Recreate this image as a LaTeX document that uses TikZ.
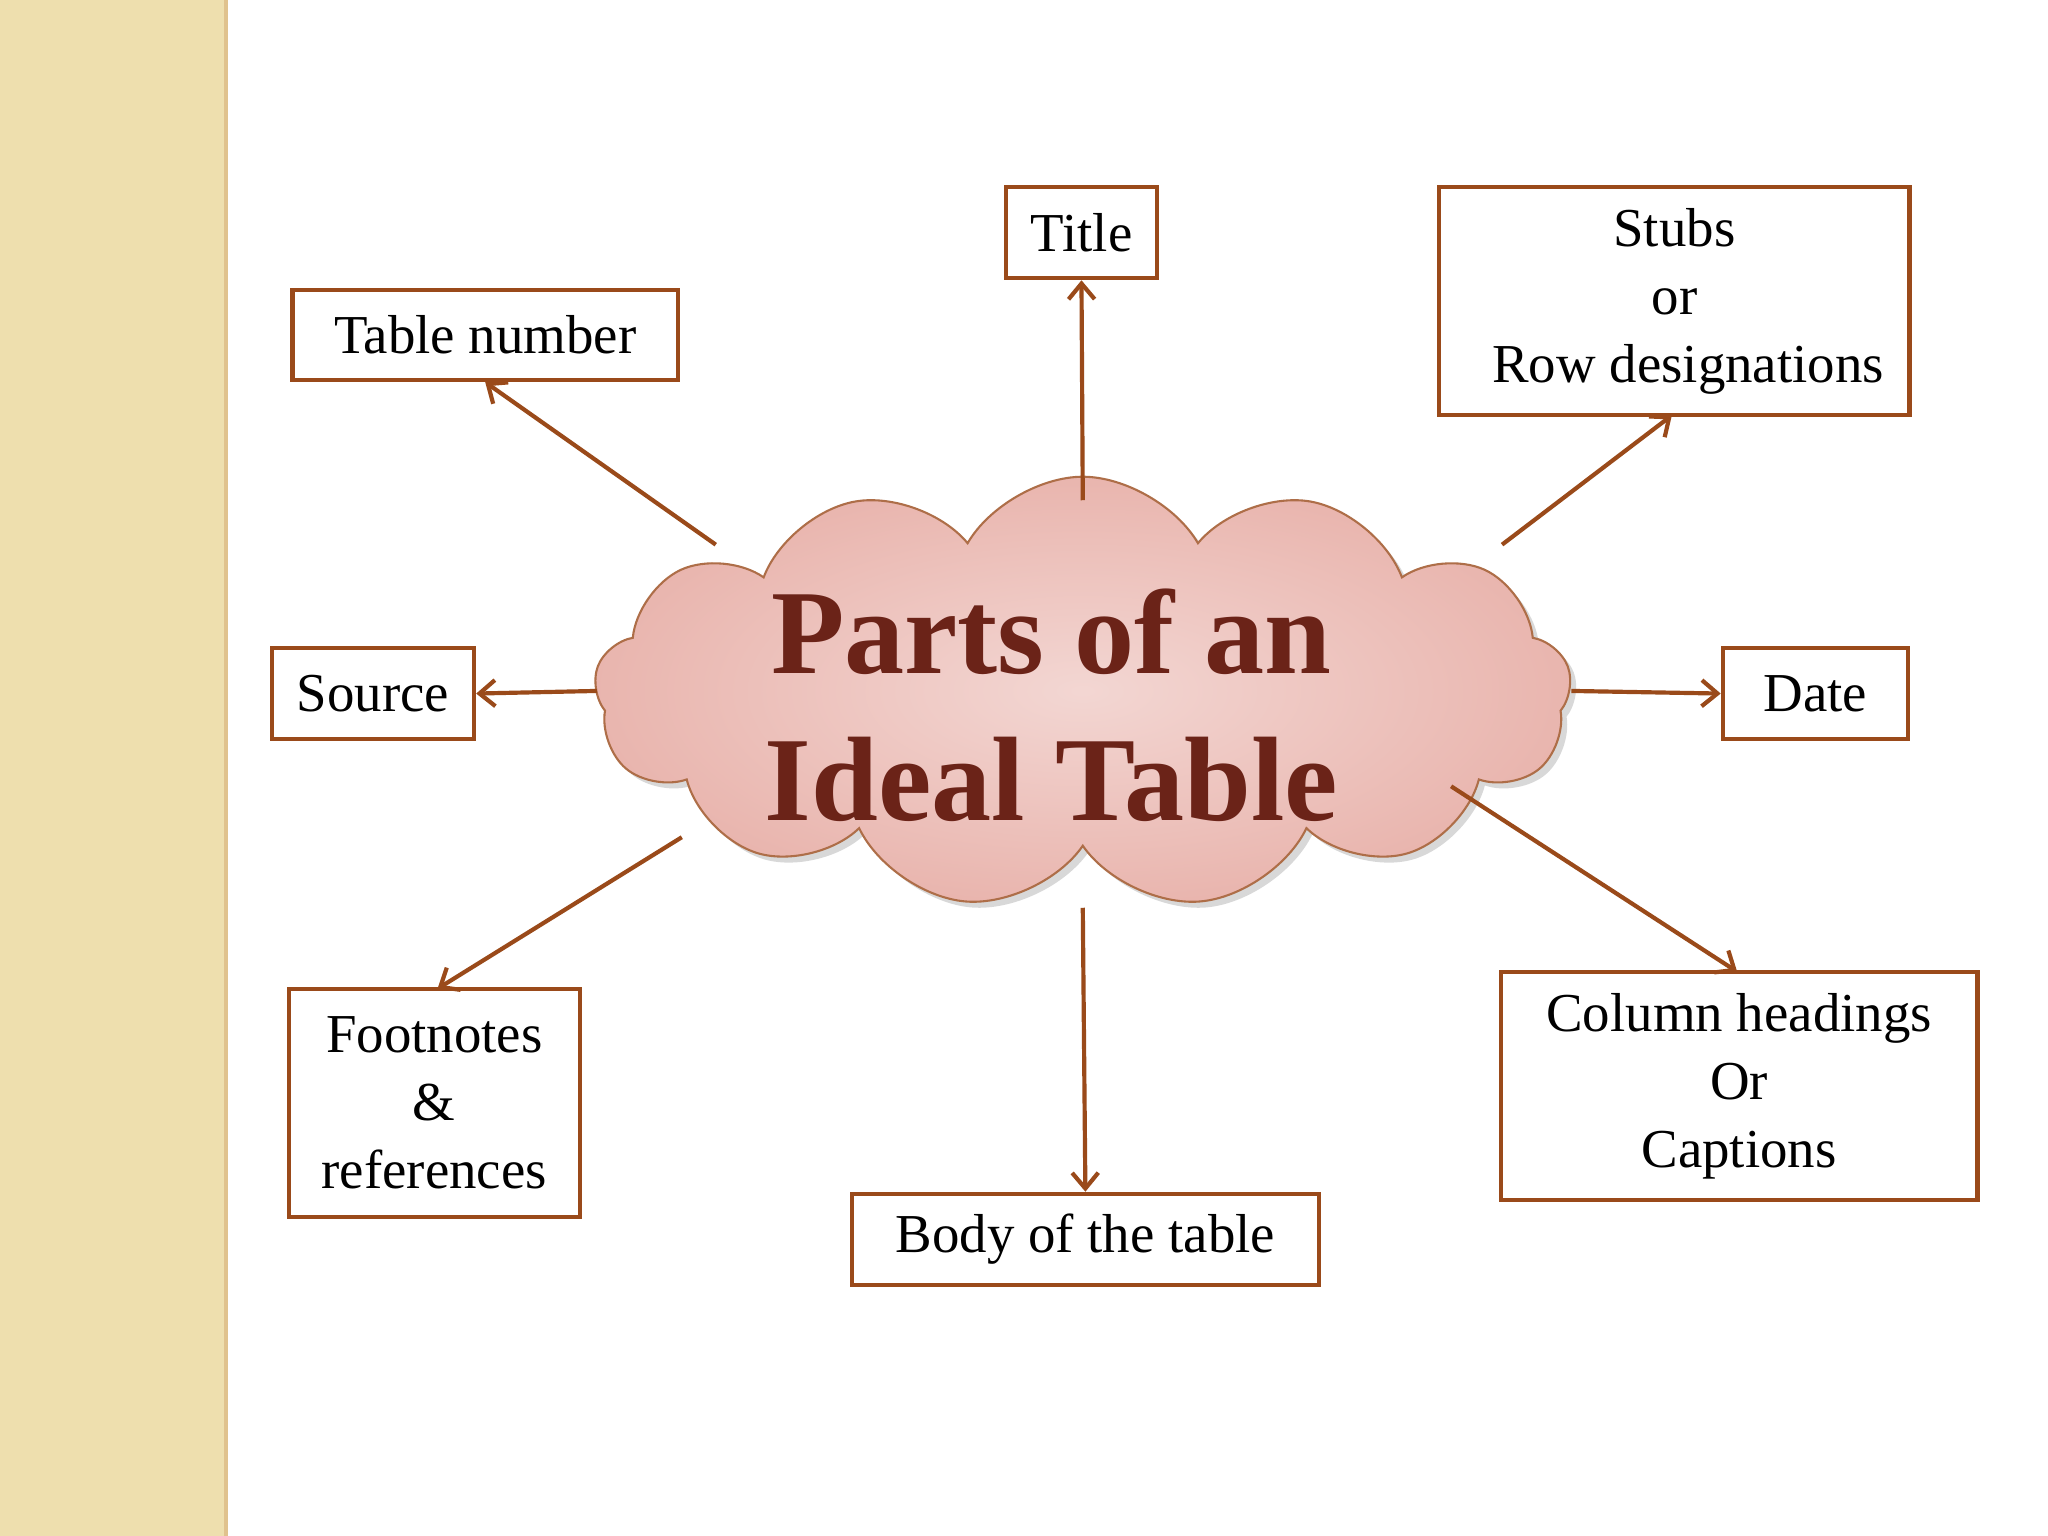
\documentclass[tikz,border=0pt]{standalone}
\usepackage{fontspec}
\setmainfont{Liberation Serif}
\usetikzlibrary{shapes.symbols,arrows.meta,shadows}
\definecolor{brn}{HTML}{9A4A1A}
\definecolor{strip}{HTML}{EEDFAE}
\definecolor{cloudc}{HTML}{E9B5AE}
\definecolor{ttl}{HTML}{6B2318}
\tikzset{
  part/.style={draw=brn,line width=1.6pt,fill=white,font=\fontsize{21}{26}\selectfont,align=center,inner sep=0pt},
  con/.style={draw=brn,line width=1.6pt,-{Straight Barb[length=6pt,width=10pt,line width=1.6pt]}}
}
\begin{document}
\begin{tikzpicture}[x=0.5pt,y=-0.5pt]
\useasboundingbox (0,0) rectangle (1568,1176);
\fill[white] (0,0) rectangle (1568,1176);
\fill[strip] (0,0) rectangle (173,1176);
\draw[strip!70!brown,line width=1.2pt] (173,0) -- (173,1176);
\node[cloud,cloud puffs=13,cloud puff arc=120,aspect=2.3,draw=brn!80,line width=0.8pt,
  inner color=cloudc!55,outer color=cloudc,drop shadow={opacity=0.3},
  minimum width=374pt,minimum height=165pt] (cl) at (829,530) {};
\node[font=\fontsize{46}{56}\selectfont\bfseries,text=ttl,align=center] (tt) at (805,540) {Parts of an\\Ideal Table};
\node[part,minimum width=58pt,minimum height=35pt] (title) at (828,178) {Title};
\node[part,minimum width=147.5pt,minimum height=34.5pt] (tn) at (371.5,256.5) {Table number};
\node[part,minimum width=180pt,minimum height=87.5pt] (st) at (1282,230.5) {Stubs\\or\\\ \ Row designations};
\node[part,minimum width=77.5pt,minimum height=35pt] (so) at (285.5,531) {Source};
\node[part,minimum width=71pt,minimum height=35pt] (da) at (1390,531) {Date};
\node[part,minimum width=111.5pt,minimum height=87.5pt] (fn) at (332.5,844.5) {Footnotes\\\&\\references};
\node[part,minimum width=179pt,minimum height=35pt] (bo) at (831,949) {Body of the table};
\node[part,minimum width=182.5pt,minimum height=87.5pt] (co) at (1331.5,831.5) {Column headings\\Or\\Captions};
\coordinate (a1) at (829,383);
\coordinate (a2) at (548,417);
\coordinate (a3) at (1150,417);
\coordinate (a4) at (457,529);
\coordinate (a5) at (1203,529);
\coordinate (a6) at (522,641);
\coordinate (a7) at (829,695);
\coordinate (a8) at (1111,602);
\draw[con] (a1) -- (title.south);
\draw[con] (a2) -- (tn.south);
\draw[con] (a3) -- (1280,318);
\draw[con] (a4) -- (so.east);
\draw[con] (a5) -- (da.west);
\draw[con] (a6) -- (335,757);
\draw[con] (a7) -- (bo.north);
\draw[con] (a8) -- (1330,744);
\end{tikzpicture}
\end{document}
